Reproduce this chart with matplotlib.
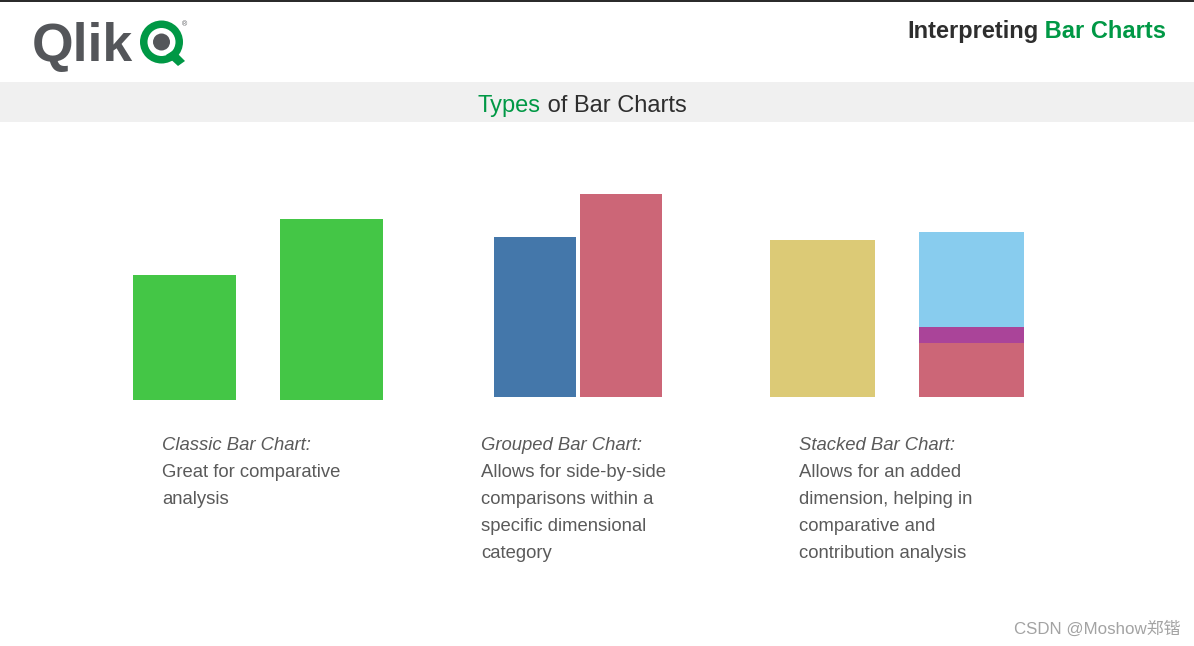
import matplotlib
matplotlib.use("Agg")
import matplotlib.pyplot as plt
from matplotlib.patches import Circle, Rectangle, Polygon

# ---------------- data ----------------
classic_values = [125, 181]
classic_colors = ["#44C646", "#44C646"]

grouped_values = [160, 203]
grouped_colors = ["#4477AA", "#CC6677"]

stacked_bottom = [157, 54]      # yellow bar, red segment
stacked_middle = [0, 16]        # purple segment
stacked_top = [0, 95]           # light-blue segment
stacked_bottom_colors = ["#DCCA76", "#CC6677"]
stacked_middle_color = "#AA4499"
stacked_top_color = "#88CCEE"

captions = ["Classic Bar Chart:", "Grouped Bar Chart:", "Stacked Bar Chart:"]
descriptions = [
    ["Great for comparative", "analysis"],
    ["Allows for side-by-side", "comparisons within a", "specific dimensional", "category"],
    ["Allows for an added", "dimension, helping in", "comparative and", "contribution analysis"],
]

W, H = 1194, 646
GREEN = "#009845"
DARK = "#2E2E2E"
TEXT_GRAY = "#5A5A5A"

plt.rcParams["font.family"] = ["Liberation Sans", "DejaVu Sans"]

fig = plt.figure(figsize=(W / 100, H / 100), dpi=100)
fig.patch.set_facecolor("white")

bg = fig.add_axes([0, 0, 1, 1])
bg.set_xlim(0, W)
bg.set_ylim(H, 0)
bg.axis("off")

# top dark line
bg.add_patch(Rectangle((0, 0), W, 2, color="#2B2B2B", lw=0))
# gray band
bg.add_patch(Rectangle((0, 82), W, 40, color="#F0F0F0", lw=0))

# Logo
bg.text(32, 61, "Qlik", fontsize=38.5, fontweight="bold", color="#54565A",
        ha="left", va="baseline")
cx, cy = 161.5, 42
bg.add_patch(Circle((cx, cy), 21.5, color=GREEN, lw=0))
bg.add_patch(Circle((cx, cy), 14, color="white", lw=0))
bg.add_patch(Circle((cx, cy), 8.5, color="#54565A", lw=0))
bg.add_patch(Polygon([(166, 55), (174, 50), (185, 61), (178, 66)], closed=True,
                     color=GREEN, lw=0))
bg.text(184, 25, "®", fontsize=5, color="#54565A", ha="center", va="center")

# Title right
t1 = bg.text(907, 38, "Interpreting", fontsize=17, fontweight="bold", color=DARK,
             ha="left", va="baseline")
bg.annotate(" Bar Charts", xy=(1, 0), xycoords=t1, fontsize=17, fontweight="bold",
            color=GREEN, ha="left", va="bottom")

# band title
t2 = bg.text(478, 112, "Types", fontsize=17, color=GREEN, ha="left", va="baseline")
bg.annotate(" of Bar Charts", xy=(1, 0), xycoords=t2, fontsize=17, color=DARK,
            ha="left", va="bottom")

# captions and descriptions
text_x = [162, 481, 799]
for x, cap, lines in zip(text_x, captions, descriptions):
    bg.text(x, 450, cap, fontsize=13.3, style="italic", color=TEXT_GRAY,
            ha="left", va="baseline")
    for i, ln in enumerate(lines):
        bg.text(x, 477 + 27 * i, ln, fontsize=13.3, color=TEXT_GRAY,
                ha="left", va="baseline")

# watermark
bg.text(1180, 634, "CSDN @Moshow郑锴", fontsize=12.2, color="#A3A3A3",
        ha="right", va="baseline", family=["Liberation Sans", "Noto Sans CJK SC"])


def px_axes(x0, y0, x1, y1):
    ax = fig.add_axes([x0 / W, 1 - y1 / H, (x1 - x0) / W, (y1 - y0) / H])
    ax.axis("off")
    ax.patch.set_alpha(0)
    return ax


# Classic
ax1 = px_axes(133, 219, 383, 400)
ax1.bar([0, 1], classic_values, width=0.7, color=classic_colors, linewidth=0)
ax1.set_xlim(-0.35, 1.35)
ax1.set_ylim(0, max(classic_values))

# Grouped
ax2 = px_axes(494, 194, 662, 397)
ax2.bar([0, 1], grouped_values, width=0.953, color=grouped_colors, linewidth=0)
ax2.set_xlim(-0.4765, 1.4765)
ax2.set_ylim(0, max(grouped_values))

# Stacked
ax3 = px_axes(770, 232, 1024, 397)
pos = [0, 1]
ax3.bar(pos, stacked_bottom, width=0.7, color=stacked_bottom_colors, linewidth=0)
ax3.bar(pos, stacked_middle, width=0.7, bottom=stacked_bottom,
        color=stacked_middle_color, linewidth=0)
mid_top = [a + b for a, b in zip(stacked_bottom, stacked_middle)]
ax3.bar(pos, stacked_top, width=0.7, bottom=mid_top, color=stacked_top_color,
        linewidth=0)
totals = [a + b for a, b in zip(mid_top, stacked_top)]
ax3.set_xlim(-0.35, 1.35)
ax3.set_ylim(0, max(totals))

fig.savefig("out.png", dpi=100, facecolor="white")
